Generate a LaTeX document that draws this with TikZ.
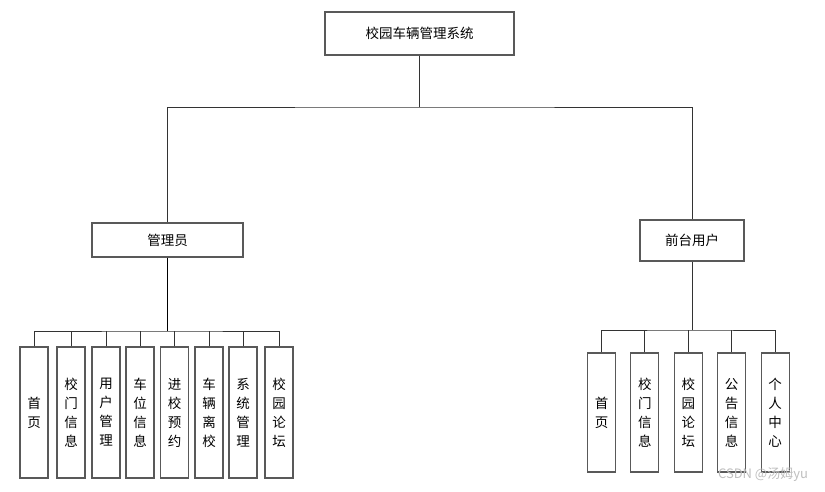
\documentclass[tikz,border=0pt]{standalone}
\usepackage{fontspec}
\setmainfont{Noto Sans CJK SC}
\begin{document}
\begin{tikzpicture}[x=1pt,y=-1pt,
  box/.style={draw=black!65,line width=1.1pt,fill=white,inner sep=0pt,font=\fontsize{13.5}{19}\selectfont},
  vbox/.style={box,minimum width=28pt,minimum height=#1,align=center},
  link/.style={draw=black!80,line width=0.9pt},
  thick link/.style={draw=black,line width=1.8pt}]
\useasboundingbox (0,0) rectangle (825,491);
% top
\node[box,minimum width=189pt,minimum height=43pt] (root) at (419.5,33.5) {校园车辆管理系统};
\node[box,minimum width=151pt,minimum height=34pt] (admin) at (167.5,240) {管理员};
\node[box,minimum width=104pt,minimum height=41pt] (user) at (692,240.5) {前台用户};
\coordinate (rootj) at (419.5,107);
\draw[link] (root.south) -- (rootj);
\draw[link] (admin.north) |- (rootj) -| (user.north);
% admin children
\foreach \t/\x [count=\i] in {首\\页/34, 校\\门\\信\\息/71, 用\\户\\管\\理/106, 车\\位\\信\\息/140, 进\\校\\预\\约/174.5, 车\\辆\\离\\校/209, 系\\统\\管\\理/243, 校\\园\\论\\坛/279}{
  \node[vbox=131pt] (a\i) at (\x,412.5) {\t};
}
\coordinate (abus) at (167.5,331);
\draw[thick link] (admin.south) -- (abus);
\draw[link] (a1.north) |- (abus) -| (a8.north);
\foreach \i in {2,...,7}{\draw[link] (a\i.north) -- (a\i.north |- abus);}
% user children
\foreach \t [count=\i] in {首\\页, 校\\门\\信\\息, 校\\园\\论\\坛, 公\\告\\信\\息, 个\\人\\中\\心}{
  \node[vbox=119pt] (u\i) at ({601.5+43.4*(\i-1)},412.5) {\t};
}
\coordinate (ubus) at (692,330);
\draw[link] (user.south) -- (ubus);
\draw[link] (u1.north) |- (ubus) -| (u5.north);
\foreach \i in {2,...,4}{\draw[link] (u\i.north) -- (u\i.north |- ubus);}
% watermark
\node[text=black!25,font=\fontsize{13}{13}\selectfont,inner sep=0pt] (wm) at (763,475) {CSDN @汤姆yu};
\end{tikzpicture}
\end{document}
